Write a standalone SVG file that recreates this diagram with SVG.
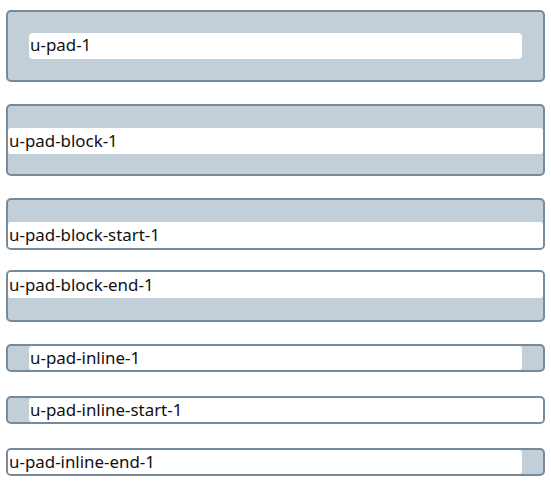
<svg xmlns="http://www.w3.org/2000/svg" width="551" height="484" viewBox="0 0 551 484">
<style>
.box{fill:#c2cfd8;stroke:#778a9b;stroke-width:2}
.inner{fill:#ffffff}
.t{font-family:"Noto Sans","Open Sans",sans-serif;font-size:16.9px;fill:#111111}
</style>
<rect width="551" height="484" fill="#ffffff"/>
<g id="u-pad-1">
<rect class="box" x="7" y="11" width="537" height="70" rx="4"/>
<rect class="inner" x="29" y="33" width="493" height="26" rx="4"/>
<text class="t" x="30" y="51">u-pad-1</text>
</g>
<g id="u-pad-block-1">
<rect class="box" x="7" y="105" width="537" height="70" rx="4"/>
<rect class="inner" x="8" y="128" width="535" height="26" rx="3"/>
<text class="t" x="9" y="147">u-pad-block-1</text>
</g>
<g id="u-pad-block-start-1">
<rect class="box" x="7" y="199" width="537" height="50" rx="4"/>
<rect class="inner" x="8" y="222" width="535" height="26" rx="3"/>
<text class="t" x="9" y="241">u-pad-block-start-1</text>
</g>
<g id="u-pad-block-end-1">
<rect class="box" x="7" y="271" width="537" height="50" rx="4"/>
<rect class="inner" x="8" y="272" width="535" height="26" rx="3"/>
<text class="t" x="9" y="291">u-pad-block-end-1</text>
</g>
<g id="u-pad-inline-1">
<rect class="box" x="7" y="345" width="537" height="26" rx="4"/>
<rect class="inner" x="29" y="346" width="493" height="24" rx="3"/>
<text class="t" x="30" y="364">u-pad-inline-1</text>
</g>
<g id="u-pad-inline-start-1">
<rect class="box" x="7" y="397" width="537" height="26" rx="4"/>
<rect class="inner" x="29" y="398" width="514" height="24" rx="3"/>
<text class="t" x="30" y="416">u-pad-inline-start-1</text>
</g>
<g id="u-pad-inline-end-1">
<rect class="box" x="7" y="449" width="537" height="26" rx="4"/>
<rect class="inner" x="8" y="450" width="514" height="24" rx="3"/>
<text class="t" x="9" y="468">u-pad-inline-end-1</text>
</g>
<g id="connectors"></g>
</svg>
